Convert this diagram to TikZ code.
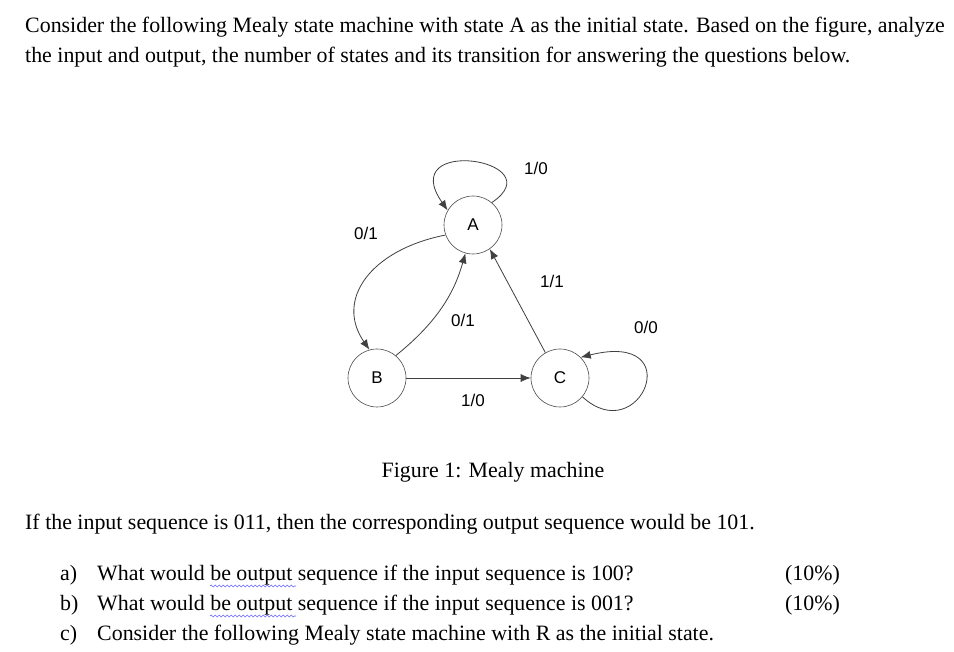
\documentclass[tikz,border=0pt]{standalone}
\usepackage{fontspec}
\setmainfont{Liberation Serif}
\newfontfamily\arialf{Liberation Sans}
\usetikzlibrary{decorations.pathmorphing,arrows.meta}
\begin{document}
\begin{tikzpicture}[x=1pt,y=-1pt,
  st/.style={circle,draw=black!70,line width=0.6pt,minimum size=58pt,inner sep=0pt,font=\arialf\fontsize{17}{17}\selectfont},
  lab/.style={font=\arialf\fontsize{17}{17}\selectfont,inner sep=0pt},
  edge/.style={draw=black!75,line width=0.8pt,-{Latex[length=10pt,width=8pt]}},
  txt/.style={anchor=base west,inner sep=0pt,font=\fontsize{21.9}{26}\selectfont},
  wavy/.style={draw=blue!60,line width=0.6pt,decorate,decoration={snake,amplitude=1pt,segment length=4pt}}]
\useasboundingbox (0,0) rectangle (954,652);
\fill[white] (0,0) rectangle (954,652);
\node[txt] (l1) at (25,33) {Consider the following Mealy state machine with state A as the initial state. Based on the figure, analyze};
\node[txt] (l2) at (25,63) {the input and output, the number of states and its transition for answering the questions below.};
\node[st] (A) at (473,225) {A};
\node[st] (B) at (377,378) {B};
\node[st] (C) at (560,378) {C};
\path[edge] (A.50) .. controls (555,160) and (395,135) .. (A.150);
\path[edge] (C.-40) .. controls (640,450) and (690,330) .. (C.45);
\path[edge] (A.200) .. controls (370,250) and (335,300) .. (B.105);
\path[edge] (B.50) .. controls (440,320) and (455,290) .. (A.255);
\path[edge] (C.120) -- (A.-55);
\path[edge] (B) -- (C);
\node[lab] (t1) at (536,168) {1/0};
\node[lab] (t2) at (366,233) {0/1};
\node[lab] (t3) at (552,281) {1/1};
\node[lab] (t4) at (463,320) {0/1};
\node[lab] (t5) at (646,327) {0/0};
\node[lab] (t6) at (473,400) {1/0};
\node[txt,anchor=base] (fig) at (493,478) {Figure 1: Mealy machine};
\node[txt] (p) at (25,529) {If the input sequence is 011, then the corresponding output sequence would be 101.};
\node[txt] (a1) at (60,580) {a)};
\node[txt] (a2) at (97,580) {What would be output sequence if the input sequence is 100?};
\node[txt] (b1) at (60,610) {b)};
\node[txt] (b2) at (97,610) {What would be output sequence if the input sequence is 001?};
\node[txt] (c1) at (60,640) {c)};
\node[txt] (c2) at (97,640) {Consider the following Mealy state machine with R as the initial state.};
\node[txt] (pa) at (785,580) {(10\%)};
\node[txt] (pb) at (785,610) {(10\%)};
\coordinate (w1a) at (210,586); \coordinate (w1b) at (296,586);
\coordinate (w2a) at (210,616); \coordinate (w2b) at (296,616);
\path[wavy] (w1a) -- (w1b);
\path[wavy] (w2a) -- (w2b);
\end{tikzpicture}
\end{document}
